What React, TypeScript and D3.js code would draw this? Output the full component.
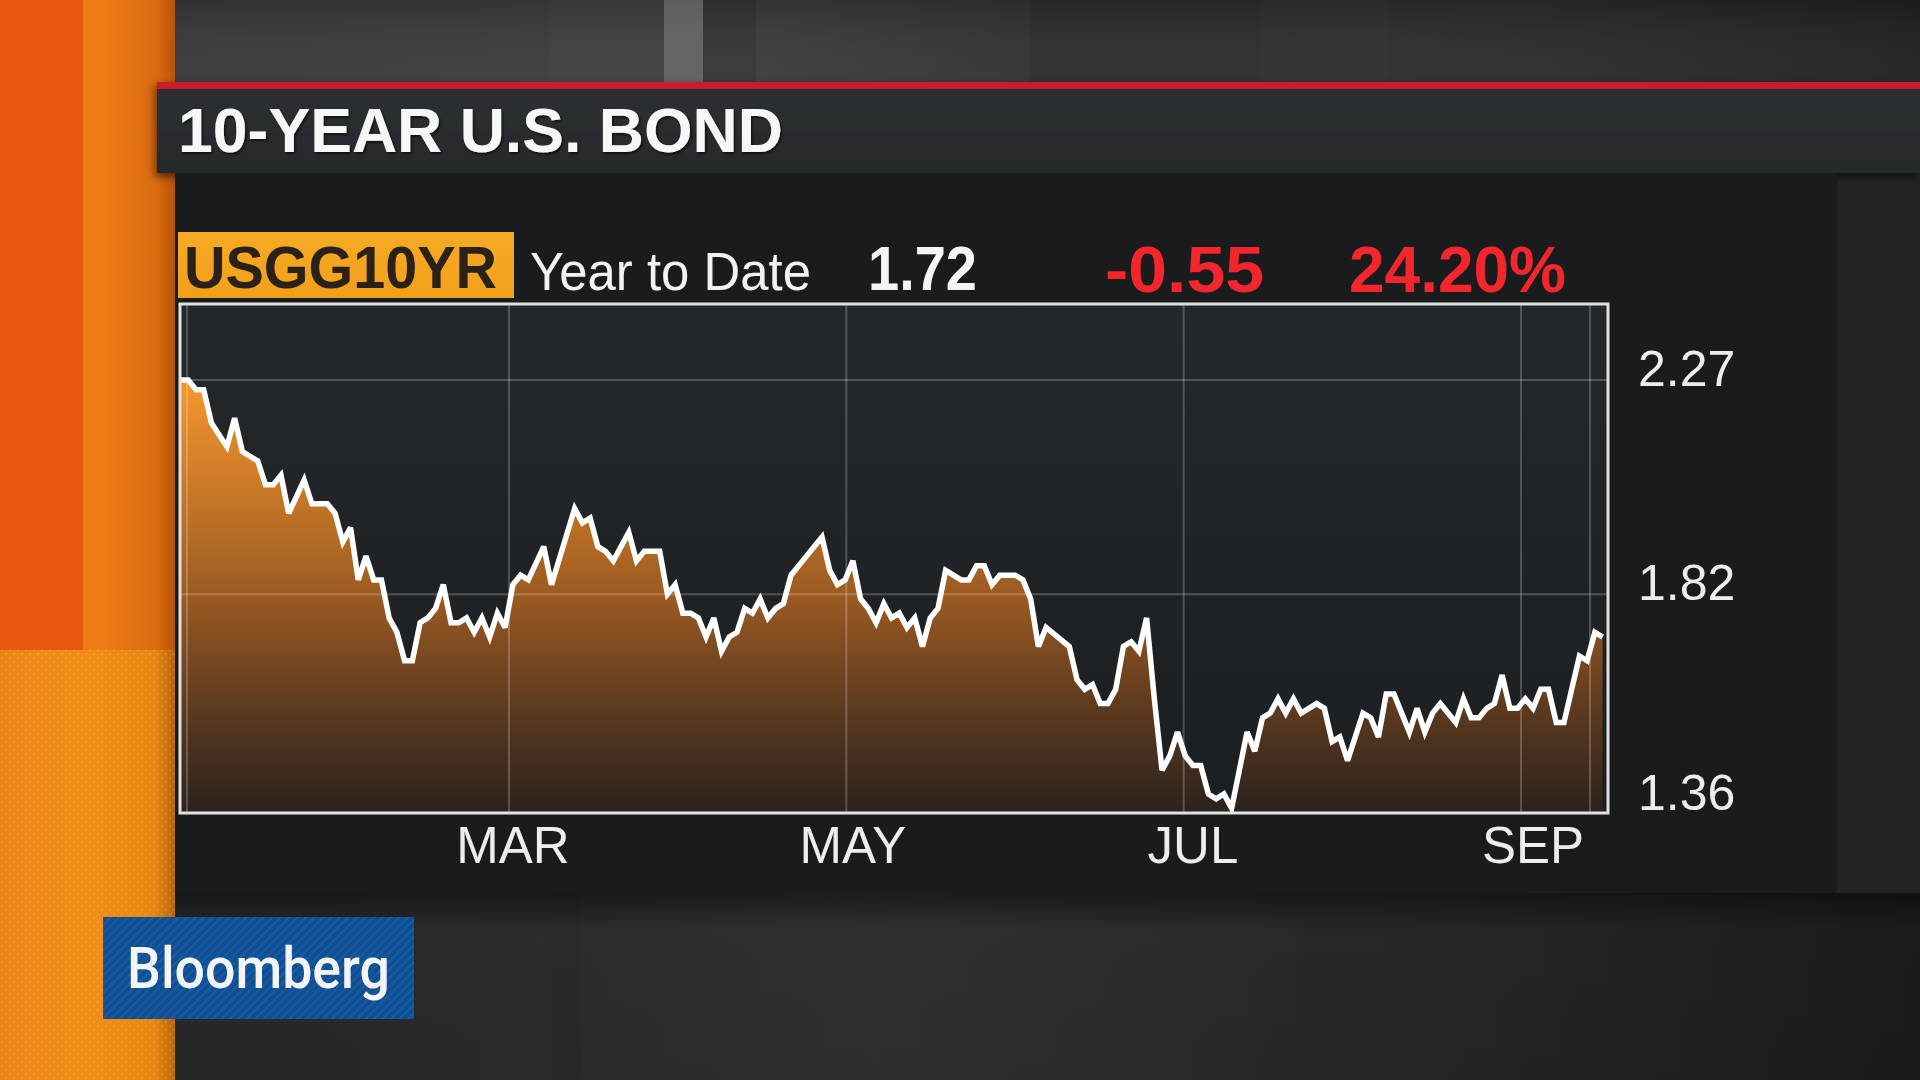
import React, { useEffect } from 'react';
import * as d3 from 'd3';

// weekday index since Dec 31, 2015 (0) and 10-year yield
const dayIndex = [
  0, 1, 2, 3, 4, 6, 7, 8, 10, 11, 12, 13, 14, 16, 17, 19, 20, 21, 22, 23, 24, 25, 26, 27, 28, 29, 30,
  31, 32, 33, 34, 35, 36, 37, 38, 39, 40, 41, 42, 43, 44, 45, 47, 48, 51, 52, 53, 54, 55, 56, 58, 59, 60,
  62, 63, 64, 65, 66, 67, 68, 69, 70, 71, 72, 73, 74, 75, 76, 77, 78, 79, 80, 82, 83, 84, 85, 86, 87, 88,
  89, 90, 91, 92, 93, 94, 95, 96, 97, 98, 99, 100, 101, 102, 103, 104, 105, 106, 108, 109, 110, 111, 112,
  115, 116, 117, 118, 119, 120, 121, 122, 123, 124, 125, 126, 127, 128, 129, 130, 131, 132, 133, 134, 135,
  136, 137, 138, 139, 140, 141, 142, 143, 144, 145, 146, 147, 148, 149, 150, 151, 152, 153, 154, 155, 156,
  157, 158, 159, 160, 161, 162, 163, 164, 165, 166, 167, 168, 169, 170, 171, 172, 173, 174, 175, 176, 177,
  178, 179, 180, 181, 182, 183, 184,
];
const yieldValues = [
  2.27, 2.27, 2.25, 2.25, 2.18, 2.13, 2.19, 2.12, 2.10, 2.05, 2.05, 2.07, 1.99, 2.06, 2.01, 2.01, 1.99, 1.93, 1.96, 1.85, 1.90, 1.85, 1.85, 1.77, 1.74, 1.68, 1.68,
  1.76, 1.77, 1.79, 1.84, 1.76, 1.76, 1.77, 1.74, 1.77, 1.73, 1.78, 1.75, 1.84, 1.86, 1.85, 1.92, 1.84, 2.00, 1.97, 1.98, 1.92, 1.91, 1.89, 1.95, 1.89, 1.91,
  1.91, 1.82, 1.84, 1.78, 1.78, 1.77, 1.73, 1.77, 1.70, 1.73, 1.74, 1.79, 1.78, 1.81, 1.77, 1.79, 1.80, 1.86, 1.88, 1.92, 1.94, 1.87, 1.84, 1.85, 1.89, 1.81,
  1.79, 1.76, 1.80, 1.77, 1.78, 1.75, 1.77, 1.71, 1.77, 1.79, 1.87, 1.86, 1.85, 1.85, 1.88, 1.88, 1.84, 1.86, 1.86, 1.85, 1.81, 1.71, 1.75,
  1.71, 1.64, 1.62, 1.63, 1.59, 1.59, 1.62, 1.71, 1.72, 1.70, 1.77, 1.60, 1.45, 1.48, 1.53, 1.48, 1.46, 1.46, 1.40, 1.39, 1.40,
  1.37, 1.45, 1.53, 1.49, 1.56, 1.57, 1.60, 1.57, 1.60, 1.57, 1.58, 1.59, 1.58, 1.51, 1.52, 1.47, 1.52, 1.57, 1.56, 1.52, 1.61,
  1.61, 1.57, 1.53, 1.58, 1.53, 1.57, 1.59, 1.57, 1.55, 1.60, 1.56, 1.56, 1.58, 1.59, 1.65, 1.58, 1.58, 1.60, 1.58, 1.62, 1.62,
  1.55, 1.55, 1.62, 1.69, 1.68, 1.74, 1.73,
];

const monthLabels = ['MAR', 'MAY', 'JUL', 'SEP'];
const monthFirstDay = [43, 87, 131, 175];
const gridDays = [1, 43, 87, 131, 175, 184];
const yTicks = [2.27, 1.82, 1.36];

const titleText = '10-YEAR U.S. BOND';
const tickerText = 'USGG10YR';
const periodText = 'Year to Date';
const lastValue = '1.72';
const netChange = '-0.55';
const pctChange = '24.20%';

const FONT = "'Liberation Sans', Arial, Helvetica, sans-serif";

export default function App() {
  useEffect(() => {
    document.body.style.margin = '0';
    document.body.style.background = '#2a2a2a';
  }, []);

  const plot = { x: 180, y: 304, w: 1428, h: 509 };
  const x = d3.scaleLinear().domain([0, 184]).range([180.5, 1602.6]);
  const gx = d3.scaleLinear().domain([0, 184]).range([179.3, 1590]);
  const y = d3.scaleLinear().domain([1.36, 2.43]).range([plot.y + plot.h, plot.y]);

  const pts: [number, number][] = dayIndex.map((d, i) => [d, yieldValues[i]]);
  const line = d3
    .line<[number, number]>()
    .x((d) => x(d[0]))
    .y((d) => y(d[1]));
  const area = d3
    .area<[number, number]>()
    .x((d) => x(d[0]))
    .y0(y(1.36))
    .y1((d) => y(d[1]));

  return (
    <svg
      width={1920}
      height={1080}
      viewBox="0 0 1920 1080"
      style={{ position: 'absolute', left: 0, top: 0, display: 'block' }}
    >
      <defs>
        <linearGradient id="topBg" x1="0" y1="0" x2="1" y2="0">
          <stop offset="0" stopColor="#383838" />
          <stop offset="0.3" stopColor="#3d3d3d" />
          <stop offset="0.5" stopColor="#313131" />
          <stop offset="0.8" stopColor="#2a2a2a" />
          <stop offset="1" stopColor="#202020" />
        </linearGradient>
        <linearGradient id="topBgV" x1="0" y1="0" x2="0" y2="1">
          <stop offset="0" stopColor="#000" stopOpacity="0.12" />
          <stop offset="1" stopColor="#fff" stopOpacity="0.03" />
        </linearGradient>
        <linearGradient id="stripe" x1="0" y1="0" x2="0" y2="1">
          <stop offset="0" stopColor="#6a6a6a" />
          <stop offset="1" stopColor="#5c5c5c" />
        </linearGradient>
        <linearGradient id="bottomBg" x1="0" y1="0" x2="1" y2="0">
          <stop offset="0" stopColor="#2a2a2a" />
          <stop offset="0.22" stopColor="#2e2e2e" />
          <stop offset="0.4" stopColor="#333333" />
          <stop offset="0.62" stopColor="#2c2c2c" />
          <stop offset="0.85" stopColor="#242424" />
          <stop offset="1" stopColor="#1d1d1d" />
        </linearGradient>
        <linearGradient id="bottomShade" x1="0" y1="0" x2="0" y2="1">
          <stop offset="0" stopColor="#000" stopOpacity="0.45" />
          <stop offset="0.2" stopColor="#000" stopOpacity="0.05" />
          <stop offset="1" stopColor="#000" stopOpacity="0.1" />
        </linearGradient>
        <linearGradient id="orangeTop" x1="0" y1="0" x2="1" y2="0">
          <stop offset="0" stopColor="#f07f18" />
          <stop offset="0.6" stopColor="#ec7a15" />
          <stop offset="0.9" stopColor="#d96a10" />
          <stop offset="1" stopColor="#b4540a" />
        </linearGradient>
        <linearGradient id="orangeBottom" x1="0" y1="0" x2="1" y2="0">
          <stop offset="0" stopColor="#ee8418" />
          <stop offset="0.5" stopColor="#f08e18" />
          <stop offset="0.88" stopColor="#e98714" />
          <stop offset="1" stopColor="#b8650b" />
        </linearGradient>
        <pattern id="dots" x="0" y="0" width="8" height="8" patternUnits="userSpaceOnUse">
          <circle cx="2" cy="2" r="1.2" fill="#ffc850" fillOpacity="0.22" />
          <circle cx="6" cy="6" r="1.2" fill="#ffc850" fillOpacity="0.22" />
        </pattern>
        <linearGradient id="plotBg" x1="0" y1="0" x2="0" y2="1">
          <stop offset="0" stopColor="#24282b" />
          <stop offset="1" stopColor="#1c1f22" />
        </linearGradient>
        <linearGradient id="areaGrad" gradientUnits="userSpaceOnUse" x1="0" y1={y(2.27) - 5} x2="0" y2={y(1.36)}>
          <stop offset="0" stopColor="#f8992d" />
          <stop offset="0.5" stopColor="#9c5b22" />
          <stop offset="0.75" stopColor="#5f3b1f" />
          <stop offset="1" stopColor="#2a221e" />
        </linearGradient>
        <linearGradient id="titleBar" x1="0" y1="0" x2="0" y2="1">
          <stop offset="0" stopColor="#2e3032" />
          <stop offset="1" stopColor="#27292b" />
        </linearGradient>
        <linearGradient id="tickerBox" x1="0" y1="0" x2="0" y2="1">
          <stop offset="0" stopColor="#f6aa24" />
          <stop offset="1" stopColor="#f2a01c" />
        </linearGradient>
        <pattern id="blueStripes" x="0" y="0" width="6" height="6" patternUnits="userSpaceOnUse" patternTransform="rotate(45)">
          <rect width="6" height="6" fill="#0f4f94" />
          <rect width="2" height="6" fill="#1a5a9e" />
        </pattern>
        <clipPath id="plotClip">
          <rect x={plot.x} y={plot.y} width={plot.w} height={plot.h} />
        </clipPath>
        <filter id="txtShadow" x="-5%" y="-20%" width="110%" height="140%">
          <feDropShadow dx="1.5" dy="2" stdDeviation="1.2" floodColor="#000" floodOpacity="0.6" />
        </filter>
        <filter id="boxShadow" x="-5%" y="-20%" width="110%" height="160%">
          <feDropShadow dx="-2" dy="4" stdDeviation="4" floodColor="#000" floodOpacity="0.55" />
        </filter>
      </defs>

      {/* background scene */}
      <rect x={0} y={0} width={1920} height={1080} fill="#262626" />
      <rect x={175} y={0} width={1745} height={90} fill="url(#topBg)" />
      <rect x={551} y={0} width={113} height={90} fill="#3f3f3f" />
      <rect x={664} y={0} width={39} height={90} fill="url(#stripe)" />
      <rect x={703} y={0} width={53} height={90} fill="#353535" />
      <rect x={1030} y={0} width={230} height={90} fill="#2c2c2c" />
      <rect x={1300} y={0} width={90} height={90} fill="#2e2e2e" />
      <rect x={175} y={0} width={1745} height={90} fill="url(#topBgV)" />

      <rect x={1837} y={170} width={83} height={730} fill="#242424" />
      <rect x={175} y={893} width={1745} height={187} fill="url(#bottomBg)" />
      <rect x={551} y={893} width={30} height={187} fill="#2c2c2c" />
      <rect x={1298} y={893} width={86} height={187} fill="#2a2a2a" />
      <rect x={175} y={893} width={1745} height={187} fill="url(#bottomShade)" />

      {/* orange side strip */}
      <rect x={0} y={0} width={175} height={1080} fill="url(#orangeBottom)" />
      <rect x={0} y={0} width={175} height={650} fill="url(#orangeTop)" />
      <rect x={0} y={0} width={83} height={650} fill="#e8590f" />
      <rect x={0} y={650} width={175} height={430} fill="url(#dots)" />

      {/* title bar */}
      <g filter="url(#boxShadow)">
        <rect x={157} y={82} width={1763} height={91} fill="url(#titleBar)" />
      </g>
      <rect x={157} y={82} width={1763} height={7} fill="#c61f2b" />
      <text
        x={178}
        y={152}
        fontFamily={FONT}
        fontWeight={700}
        fontSize={63}
        fill="#f7f7f7"
        textLength={605}
        lengthAdjust="spacingAndGlyphs"
        filter="url(#txtShadow)"
      >
        {titleText}
      </text>

      {/* main panel */}
      <rect x={175} y={173} width={1662} height={720} fill="#1a1b1d" />

      {/* header row */}
      <rect x={178} y={232} width={336} height={66} fill="url(#tickerBox)" />
      <text
        x={184}
        y={288}
        fontFamily={FONT}
        fontWeight={700}
        fontSize={60}
        fill="#2a2219"
        textLength={313}
        lengthAdjust="spacingAndGlyphs"
      >
        {tickerText}
      </text>
      <text
        x={530}
        y={290}
        fontFamily={FONT}
        fontWeight={400}
        fontSize={53}
        fill="#f2f2f2"
        textLength={281}
        lengthAdjust="spacingAndGlyphs"
      >
        {periodText}
      </text>
      <text
        x={868}
        y={290}
        fontFamily={FONT}
        fontWeight={700}
        fontSize={63}
        fill="#f5f5f5"
        textLength={109}
        lengthAdjust="spacingAndGlyphs"
      >
        {lastValue}
      </text>
      <text
        x={1105}
        y={292}
        fontFamily={FONT}
        fontWeight={700}
        fontSize={64}
        fill="#f4262d"
        textLength={159}
        lengthAdjust="spacingAndGlyphs"
      >
        {netChange}
      </text>
      <text
        x={1349}
        y={292}
        fontFamily={FONT}
        fontWeight={700}
        fontSize={64}
        fill="#f4262d"
        textLength={217}
        lengthAdjust="spacingAndGlyphs"
      >
        {pctChange}
      </text>

      {/* plot */}
      <rect x={plot.x} y={plot.y} width={plot.w} height={plot.h} fill="url(#plotBg)" />
      <g clipPath="url(#plotClip)">
        <path d={area(pts) || ''} fill="url(#areaGrad)" />
        {gridDays.map((d) => (
          <line
            key={'gv' + d}
            x1={gx(d)}
            x2={gx(d)}
            y1={plot.y}
            y2={plot.y + plot.h}
            stroke="#ffffff"
            strokeOpacity={0.22}
            strokeWidth={2}
          />
        ))}
        {yTicks
          .filter((v) => v > 1.4)
          .map((v) => (
            <line
              key={'gh' + v}
              x1={plot.x}
              x2={plot.x + plot.w}
              y1={y(v)}
              y2={y(v)}
              stroke="#ffffff"
              strokeOpacity={0.22}
              strokeWidth={2}
            />
          ))}
        <path
          d={line(pts) || ''}
          fill="none"
          stroke="#ffffff"
          strokeWidth={5.5}
          strokeLinejoin="miter"
          strokeMiterlimit={3}
        />
      </g>
      <rect
        x={plot.x}
        y={plot.y}
        width={plot.w}
        height={plot.h}
        fill="none"
        stroke="#e2e2e2"
        strokeWidth={3}
      />

      {/* y labels */}
      {yTicks.map((v) => (
        <text
          key={'yl' + v}
          x={1638}
          y={Math.min(y(v) + 5.5, 810)}
          fontFamily={FONT}
          fontSize={50}
          fill="#ededed"
        >
          {v.toFixed(2)}
        </text>
      ))}

      {/* month labels */}
      {monthLabels.map((m, i) => (
        <text
          key={m}
          x={x(monthFirstDay[i])}
          y={863}
          textAnchor="middle"
          fontFamily={FONT}
          fontSize={51}
          fill="#ededed"
        >
          {m}
        </text>
      ))}

      {/* Bloomberg logo box */}
      <rect x={103} y={917} width={311} height={102} fill="url(#blueStripes)" />
      <text
        x={127}
        y={988}
        fontFamily="Roboto, 'Liberation Sans', Arial, sans-serif"
        fontWeight={500}
        fontSize={58}
        fill="#f4f4f4"
        textLength={263}
        lengthAdjust="spacingAndGlyphs"
      >
        Bloomberg
      </text>
    </svg>
  );
}
